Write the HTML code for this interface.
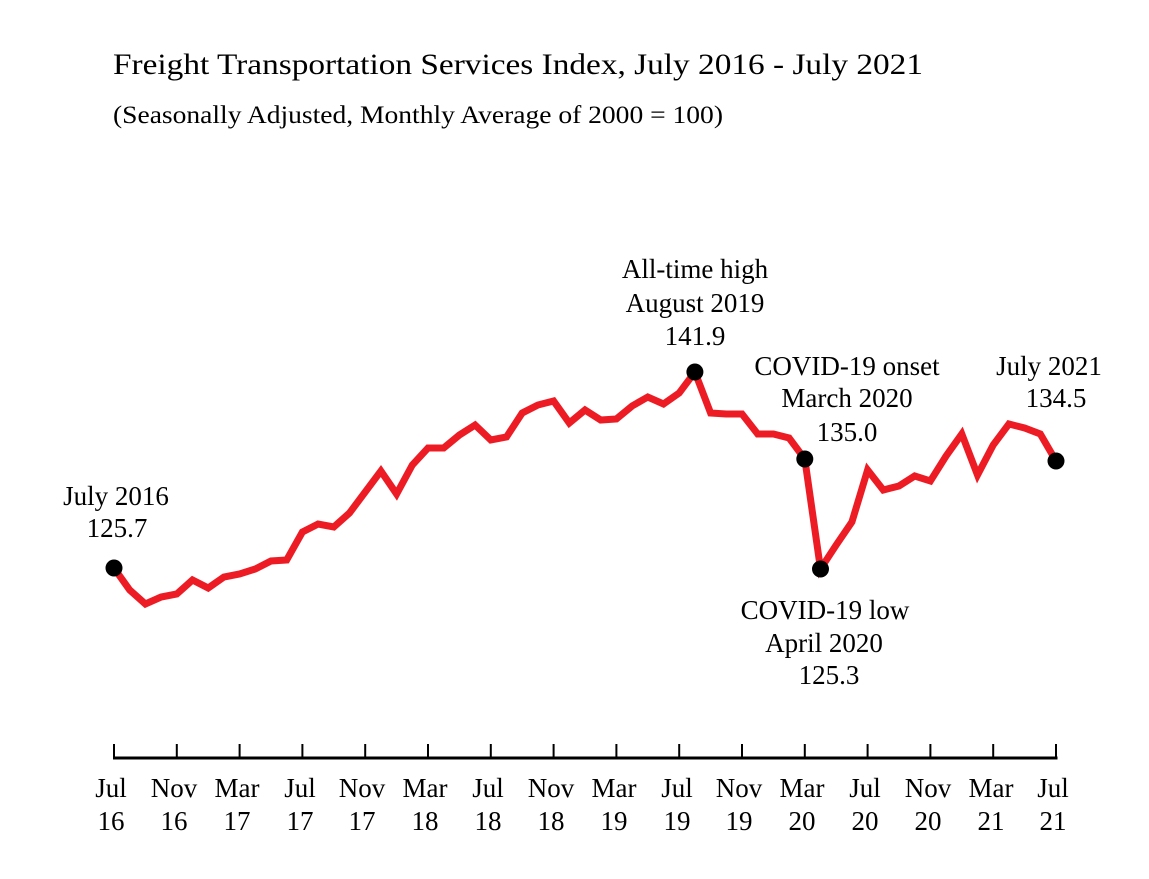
<!DOCTYPE html>
<html>
<head>
<meta charset="utf-8">
<style>
  html,body{margin:0;padding:0;background:#fff;}
  svg{display:block;}
  text{font-family:"Liberation Serif","Times New Roman",serif;fill:#000;}
</style>
</head>
<body>
<svg width="1149" height="879" viewBox="0 0 1149 879" xmlns="http://www.w3.org/2000/svg">
  <rect width="1149" height="879" fill="#fff"/>
  <!-- Titles -->
  <text x="113" y="74" font-size="30" textLength="810" lengthAdjust="spacingAndGlyphs">Freight Transportation Services Index, July 2016 - July 2021</text>
  <text x="113" y="123" font-size="25" textLength="610" lengthAdjust="spacingAndGlyphs">(Seasonally Adjusted, Monthly Average of 2000 = 100)</text>

  <!-- Axis -->
  <line x1="113" y1="758" x2="1057.5" y2="758" stroke="#000" stroke-width="3"/>
  <g stroke="#000" stroke-width="2">
    <line x1="114" y1="744" x2="114" y2="758"/>
    <line x1="176.8" y1="744" x2="176.8" y2="758"/>
    <line x1="239.6" y1="744" x2="239.6" y2="758"/>
    <line x1="302.4" y1="744" x2="302.4" y2="758"/>
    <line x1="365.2" y1="744" x2="365.2" y2="758"/>
    <line x1="428" y1="744" x2="428" y2="758"/>
    <line x1="490.8" y1="744" x2="490.8" y2="758"/>
    <line x1="553.6" y1="744" x2="553.6" y2="758"/>
    <line x1="616.4" y1="744" x2="616.4" y2="758"/>
    <line x1="679.2" y1="744" x2="679.2" y2="758"/>
    <line x1="742" y1="744" x2="742" y2="758"/>
    <line x1="804.8" y1="744" x2="804.8" y2="758"/>
    <line x1="867.6" y1="744" x2="867.6" y2="758"/>
    <line x1="930.4" y1="744" x2="930.4" y2="758"/>
    <line x1="993.2" y1="744" x2="993.2" y2="758"/>
    <line x1="1056" y1="744" x2="1056" y2="758"/>
  </g>

  <!-- Tick labels -->
  <g font-size="27" text-anchor="middle">
    <text x="111" y="797">Jul</text><text x="111" y="830">16</text>
    <text x="174" y="797">Nov</text><text x="174" y="830">16</text>
    <text x="237" y="797">Mar</text><text x="237" y="830">17</text>
    <text x="300" y="797">Jul</text><text x="300" y="830">17</text>
    <text x="362" y="797">Nov</text><text x="362" y="830">17</text>
    <text x="425" y="797">Mar</text><text x="425" y="830">18</text>
    <text x="488" y="797">Jul</text><text x="488" y="830">18</text>
    <text x="551" y="797">Nov</text><text x="551" y="830">18</text>
    <text x="614" y="797">Mar</text><text x="614" y="830">19</text>
    <text x="677" y="797">Jul</text><text x="677" y="830">19</text>
    <text x="739" y="797">Nov</text><text x="739" y="830">19</text>
    <text x="802" y="797">Mar</text><text x="802" y="830">20</text>
    <text x="865" y="797">Jul</text><text x="865" y="830">20</text>
    <text x="928" y="797">Nov</text><text x="928" y="830">20</text>
    <text x="991" y="797">Mar</text><text x="991" y="830">21</text>
    <text x="1053" y="797">Jul</text><text x="1053" y="830">21</text>
  </g>

  <!-- Series -->
  <polyline fill="none" stroke="#ED1C24" stroke-width="7" stroke-linejoin="miter" stroke-miterlimit="4"
    points="114,568 129.7,590 145.4,604 161.1,597 176.8,594 192.5,580 208.2,588 223.9,577 239.6,574 255.3,569 271,561 286.7,560 302.4,532 318.1,524 333.8,527 349.5,513 365.2,492 380.9,471 396.6,494 412.3,465 428,448 443.7,448 459.4,435 475.1,425 490.8,440 506.5,437 522.2,413 537.9,405 553.6,401 569.3,423 585,410 600.7,420 616.4,419 632.1,406 647.8,397 663.5,404 679.2,393 694.9,372 710.6,413 726.3,414 742,414 757.7,434 773.4,434 789.1,438 804.8,459 820.5,569 836.2,545 851.9,522 867.6,470 883.3,490 899,486 914.7,476 930.4,481 946.1,456 961.8,434 977.5,475 993.2,445 1008.9,424 1024.6,428 1040.3,434 1056,461"/>

  <!-- Dots -->
  <g fill="#000">
    <circle cx="114" cy="568" r="8.5"/>
    <circle cx="694.9" cy="372" r="8.5"/>
    <circle cx="804.8" cy="459" r="8.5"/>
    <circle cx="820.5" cy="569" r="8.5"/>
    <circle cx="1056" cy="461" r="8.5"/>
  </g>

  <!-- Annotations -->
  <g font-size="27" text-anchor="middle">
    <text x="116" y="505">July 2016</text>
    <text x="117" y="537">125.7</text>

    <text x="695" y="278">All-time high</text>
    <text x="695" y="312">August 2019</text>
    <text x="695" y="345">141.9</text>

    <text x="847" y="375">COVID-19 onset</text>
    <text x="847" y="407">March 2020</text>
    <text x="847" y="441">135.0</text>

    <text x="1049" y="375">July 2021</text>
    <text x="1056" y="407">134.5</text>

    <text x="825" y="619">COVID-19 low</text>
    <text x="824" y="652">April 2020</text>
    <text x="829" y="684">125.3</text>
  </g>
</svg>
</body>
</html>
